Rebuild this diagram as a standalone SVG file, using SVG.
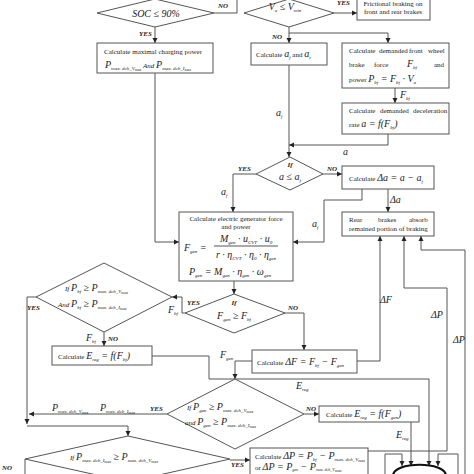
<svg xmlns="http://www.w3.org/2000/svg" width="474" height="474" viewBox="0 0 474 474">
<style>
.bx{fill:#fff;stroke:#555;stroke-width:1}
.ln{fill:none;stroke:#555;stroke-width:1}
.t{font-family:"Liberation Serif",serif;font-size:7px;fill:#222}
.m{font-family:"Liberation Serif",serif;font-style:italic;font-size:10px;fill:#222}
.lb{font-family:"Liberation Serif",serif;font-style:italic;font-weight:bold;font-size:7px;fill:#222}
.s{font-size:5px}
.ss{font-size:4px}
</style>
<defs>
<marker id="ah" markerWidth="6" markerHeight="6" refX="5" refY="3" orient="auto" markerUnits="userSpaceOnUse"><path d="M0,0.5 L5,3 L0,5.5 z" fill="#222"/></marker>
</defs>
<rect width="474" height="474" fill="#fff"/>
<g id="connectors">
<path class="ln" d="M155,27 V43" marker-end="url(#ah)"/>
<path class="ln" d="M214,13 H237 V-2"/>
<path class="ln" d="M155,73 V242 H179" marker-end="url(#ah)"/>
<path class="ln" d="M289,27 V43" marker-end="url(#ah)"/>
<path class="ln" d="M334,13 H357" marker-end="url(#ah)"/>
<path class="ln" d="M289,33 H388 V43" marker-end="url(#ah)"/>
<path class="ln" d="M395,88 V103" marker-end="url(#ah)"/>
<path class="ln" d="M388,134 V145 H289" marker-end="url(#ah)"/>
<path class="ln" d="M289,65 V157" marker-end="url(#ah)"/>
<path class="ln" d="M256,174 H233 V212" marker-end="url(#ah)"/>
<path class="ln" d="M323,174 H342" marker-end="url(#ah)"/>
<path class="ln" d="M388,189 V212" marker-end="url(#ah)"/>
<path class="ln" d="M362,189 V200 H324 V242 H293" marker-end="url(#ah)"/>
<path class="ln" d="M234,281 V294" marker-end="url(#ah)"/>
<path class="ln" d="M185,313 H182 V297 H172" marker-end="url(#ah)"/>
<path class="ln" d="M285,313 H304 V350" marker-end="url(#ah)"/>
<path class="ln" d="M104,332 V346" marker-end="url(#ah)"/>
<path class="ln" d="M36,297 H27 V424" marker-end="url(#ah)"/>
<path class="ln" d="M27,426 H128 V436" marker-end="url(#ah)"/>
<path class="ln" d="M167,414 H29" marker-end="url(#ah)"/>
<path class="ln" d="M152,356 H209 V379 H429 V466" marker-end="url(#ah)"/>
<path class="ln" d="M357,361 H380 V236" marker-end="url(#ah)"/>
<path class="ln" d="M252,361 H235 V379" marker-end="url(#ah)"/>
<path class="ln" d="M304,414 H319" marker-end="url(#ah)"/>
<path class="ln" d="M411,422 V466" marker-end="url(#ah)"/>
<path class="ln" d="M368,451 H447 V288 H404 V236" marker-end="url(#ah)"/>
<path class="ln" d="M465,480 V250 H421 V236" marker-end="url(#ah)"/>
<path class="ln" d="M385,480 V454 H402 V466" marker-end="url(#ah)"/>
<path class="ln" d="M458,480 V454 H438 V466" marker-end="url(#ah)"/>
<path class="ln" d="M230,460 H250" marker-end="url(#ah)"/>
<path class="ln" d="M25,459 V480"/>
<path d="M393,476 C393,461 446,461 446,476" fill="none" stroke="#111" stroke-width="2.2"/>
<text class="lb" x="139" y="36">YES</text>
<text class="lb" x="272" y="39">NO</text>
<text class="lb" x="337" y="5">YES</text>
<text class="lb" x="218" y="8">NO</text>
<text class="m" x="400" y="98">F<tspan class="s" dy="2">bf</tspan></text>
<text class="m" x="343" y="155">a</text>
<text class="m" x="276" y="116">a<tspan class="s" dy="2">f</tspan></text>
<text class="lb" x="238" y="171">YES</text>
<text class="m" x="221" y="195">a<tspan class="s" dy="2">f</tspan></text>
<text class="lb" x="327" y="171">NO</text>
<text class="m" x="390" y="203">Δa</text>
<text class="m" x="312" y="227">a<tspan class="s" dy="2">f</tspan></text>
<text class="lb" x="187" y="305">YES</text>
<text class="m" x="168" y="313">F<tspan class="s" dy="2">bf</tspan></text>
<text class="lb" x="288" y="310">NO</text>
<text class="m" x="86" y="341">F<tspan class="s" dy="2">bf</tspan></text>
<text class="lb" x="108" y="341">NO</text>
<text class="lb" x="27" y="310">YES</text>
<text class="m" x="52" y="411">P<tspan class="s" dy="2">max. dch_V</tspan><tspan class="ss" dy="1">max</tspan></text>
<text class="m" x="100" y="411">P<tspan class="s" dy="2">max. dch_I</tspan><tspan class="ss" dy="1">max</tspan></text>
<text class="lb" x="150" y="411">YES</text>
<text class="m" x="220" y="358">F<tspan class="s" dy="2">gen</tspan></text>
<text class="lb" x="306" y="411">NO</text>
<text class="m" x="380" y="303">ΔF</text>
<text class="m" x="396" y="438">E<tspan class="s" dy="2">reg</tspan></text>
<text class="m" x="431" y="318">ΔP</text>
<text class="m" x="453" y="343">ΔP</text>
<text class="lb" x="231" y="467">YES</text>
<text class="lb" x="2" y="470">NO</text>
<text class="m" x="296" y="389">E<tspan class="s" dy="2">reg</tspan></text>
</g>
<g id="n-soc">
<polygon class="bx" points="155,-1 214,13 155,27 97,13"/>
<text class="m" x="156" y="17" text-anchor="middle" font-size="11">SOC ≤ 90%</text>
</g>
<g id="n-charge">
<rect class="bx" x="97" y="43" width="116" height="30"/>
<text class="t" x="104" y="54" font-size="7.3">Calculate maximal charging power</text>
<text class="m" x="105" y="68">P<tspan class="s" dy="2">max. dch_V</tspan><tspan class="ss" dy="1">max</tspan><tspan class="t" dy="-3">  And  </tspan>P<tspan class="s" dy="2">max. dch_I</tspan><tspan class="ss" dy="1">max</tspan></text>
</g>
<g id="n-va">
<polygon class="bx" points="289,-1 334,13 289,27 244,13"/>
<text class="m" x="285" y="10" text-anchor="middle">V<tspan class="s" dy="2">a</tspan><tspan dy="-2"> ≤ V</tspan><tspan class="s" dy="2">min</tspan></text>
</g>
<g id="n-fric">
<rect class="bx" x="357" y="-5" width="73" height="25"/>
<text class="t" x="393" y="6" text-anchor="middle">Frictional braking on</text>
<text class="t" x="393" y="14" text-anchor="middle">front and rear brakes</text>
</g>
<g id="n-af">
<rect class="bx" x="251" y="43" width="76" height="22"/>
<text class="t" x="256" y="57">Calculate <tspan class="m">a</tspan><tspan class="s" font-style="italic" dy="2">f</tspan><tspan dy="-2"> and </tspan><tspan class="m">a</tspan><tspan class="s" font-style="italic" dy="2">r</tspan></text>
</g>
<g id="n-fbf">
<rect class="bx" x="342" y="43" width="107" height="45"/>
<text class="t" y="53"><tspan x="349">Calculate</tspan><tspan x="379">demanded</tspan><tspan x="409">front</tspan><tspan x="428">wheel</tspan></text>
<text class="t" x="349" y="67">brake</text>
<text class="t" x="374" y="67">force</text>
<text class="m" x="407" y="67" font-size="11">F<tspan class="s" dy="2">bf</tspan></text>
<text class="t" x="434" y="67">and</text>
<text class="t" x="349" y="82">power <tspan class="m">P</tspan><tspan class="s" font-style="italic" dy="2">bf</tspan><tspan class="m" dy="-2"> = F</tspan><tspan class="s" font-style="italic" dy="2">bf</tspan><tspan class="m" dy="-2"> · V</tspan><tspan class="s" font-style="italic" dy="2">a</tspan></text>
</g>
<g id="n-decel">
<rect class="bx" x="342" y="103" width="107" height="31"/>
<text class="t" y="113"><tspan x="349">Calculate</tspan><tspan x="380">demanded</tspan><tspan x="413">deceleration</tspan></text>
<text class="t" x="349" y="127">rate <tspan class="m">a = f</tspan><tspan class="m">(F</tspan><tspan class="s" font-style="italic" dy="2">bf</tspan><tspan class="m" dy="-2">)</tspan></text>
</g>
<g id="n-da">
<polygon class="bx" points="290,157 323,174 290,190 256,174"/>
<text class="lb" x="290" y="167" text-anchor="middle">If</text>
<text class="m" x="290" y="180" text-anchor="middle">a ≤ a<tspan class="s" dy="2">f</tspan></text>
</g>
<g id="n-delta-a">
<rect class="bx" x="342" y="166" width="92" height="23"/>
<text class="t" x="349" y="181">Calculate <tspan class="m">Δa = a − a</tspan><tspan class="s" font-style="italic" dy="2">f</tspan></text>
</g>
<g id="n-rear">
<rect class="bx" x="342" y="212" width="92" height="24"/>
<text class="t" y="222"><tspan x="349">Rear</tspan><tspan x="378">brakes</tspan><tspan x="409">absorb</tspan></text>
<text class="t" x="349" y="231">remained portion of braking</text>
</g>
<g id="n-gen">
<rect class="bx" x="179" y="212" width="114" height="69"/>
<text class="t" x="236" y="221" text-anchor="middle" font-size="6.3">Calculate electric generator force</text>
<text class="t" x="236" y="229" text-anchor="middle" font-size="6.3">and power</text>
<text class="m" x="184" y="251">F<tspan class="s" dy="2">gen</tspan><tspan dy="-2"> =</tspan></text>
<text class="m" x="246" y="242" text-anchor="middle">M<tspan class="s" dy="2">gen</tspan><tspan dy="-2"> · u</tspan><tspan class="s" dy="2">CVT</tspan><tspan dy="-2"> · u</tspan><tspan class="s" dy="2">0</tspan></text>
<line class="ln" x1="214" y1="246" x2="278" y2="246"/>
<text class="m" x="246" y="258" text-anchor="middle">r · η<tspan class="s" dy="2">CVT</tspan><tspan dy="-2"> · η</tspan><tspan class="s" dy="2">0</tspan><tspan dy="-2"> · η</tspan><tspan class="s" dy="2">gen</tspan></text>
<text class="m" x="189" y="275">P<tspan class="s" dy="2">gen</tspan><tspan dy="-2"> = M</tspan><tspan class="s" dy="2">gen</tspan><tspan dy="-2"> · η</tspan><tspan class="s" dy="2">gen</tspan><tspan dy="-2"> · ω</tspan><tspan class="s" dy="2">gen</tspan></text>
</g>
<g id="n-fgen">
<polygon class="bx" points="234,294 285,313 234,333 185,313"/>
<text class="lb" x="234" y="305" text-anchor="middle">If</text>
<text class="m" x="234" y="319" text-anchor="middle">F<tspan class="s" dy="2">gen</tspan><tspan dy="-2"> ≥ F</tspan><tspan class="s" dy="2">bf</tspan></text>
</g>
<g id="n-pbf">
<polygon class="bx" points="104,263 172,297 104,332 36,297"/>
<text class="m" x="65" y="291"><tspan font-size="7">If </tspan>P<tspan class="s" dy="2">bf</tspan><tspan dy="-2"> ≥ P</tspan><tspan class="s" dy="2">max. dch_V</tspan><tspan class="ss" dy="1">max</tspan></text>
<text class="m" x="58" y="307"><tspan font-size="7">And </tspan>P<tspan class="s" dy="2">bf</tspan><tspan dy="-2"> ≥ P</tspan><tspan class="s" dy="2">max. dch_I</tspan><tspan class="ss" dy="1">max</tspan></text>
</g>
<g id="n-ereg1">
<rect class="bx" x="52" y="346" width="100" height="19"/>
<text class="t" x="58" y="359">Calculate <tspan class="m">E</tspan><tspan class="s" font-style="italic" dy="2">reg</tspan><tspan class="m" dy="-2"> = f(F</tspan><tspan class="s" font-style="italic" dy="2">bf</tspan><tspan class="m" dy="-2">)</tspan></text>
</g>
<g id="n-dF">
<rect class="bx" x="252" y="350" width="105" height="23"/>
<text class="t" x="257" y="365">Calculate <tspan class="m">ΔF = F</tspan><tspan class="s" font-style="italic" dy="2">bf</tspan><tspan class="m" dy="-2"> − F</tspan><tspan class="s" font-style="italic" dy="2">gen</tspan></text>
</g>
<g id="n-pgen">
<polygon class="bx" points="235,379 304,414 235,449 167,414"/>
<text class="m" x="187" y="410"><tspan font-size="7">If </tspan>P<tspan class="s" dy="2">gen</tspan><tspan dy="-2"> ≥ P</tspan><tspan class="s" dy="2">max. dch_V</tspan><tspan class="ss" dy="1">max</tspan></text>
<text class="m" x="185" y="425"><tspan font-size="7">and </tspan>P<tspan class="s" dy="2">gen</tspan><tspan dy="-2"> ≥ P</tspan><tspan class="s" dy="2">max. dch_I</tspan><tspan class="ss" dy="1">max</tspan></text>
</g>
<g id="n-ereg2">
<rect class="bx" x="319" y="406" width="100" height="16"/>
<text class="t" x="326" y="417">Calculate <tspan class="m">E</tspan><tspan class="s" font-style="italic" dy="2">reg</tspan><tspan class="m" dy="-2"> = f(F</tspan><tspan class="s" font-style="italic" dy="2">gen</tspan><tspan class="m" dy="-2">)</tspan></text>
</g>
<g id="n-pmax">
<polygon class="bx" points="128,436 230,459 128,482 25,459"/>
<text class="m" x="70" y="460"><tspan font-size="7">If  </tspan>P<tspan class="s" dy="2">max. dch_I</tspan><tspan class="ss" dy="1">max</tspan><tspan dy="-3"> ≥ P</tspan><tspan class="s" dy="2">max. dch_V</tspan><tspan class="ss" dy="1">max</tspan></text>
</g>
<g id="n-dP">
<rect class="bx" x="250" y="448" width="118" height="32"/>
<text class="t" x="255" y="459">Calculate <tspan class="m">ΔP = P</tspan><tspan class="s" font-style="italic" dy="2">bf</tspan><tspan class="m" dy="-2"> − P</tspan><tspan class="s" font-style="italic" dy="2">max. dch_V</tspan><tspan class="ss" font-style="italic" dy="1">max</tspan></text>
<text class="t" x="255" y="470">or <tspan class="m" font-size="9">ΔP = P</tspan><tspan class="ss" font-style="italic" dy="1">gen</tspan><tspan class="m" font-size="9" dy="-1"> − P</tspan><tspan class="ss" font-style="italic" dy="1">max. dch_V</tspan><tspan class="ss" font-style="italic" dy="1">max</tspan></text>
</g>
</svg>
